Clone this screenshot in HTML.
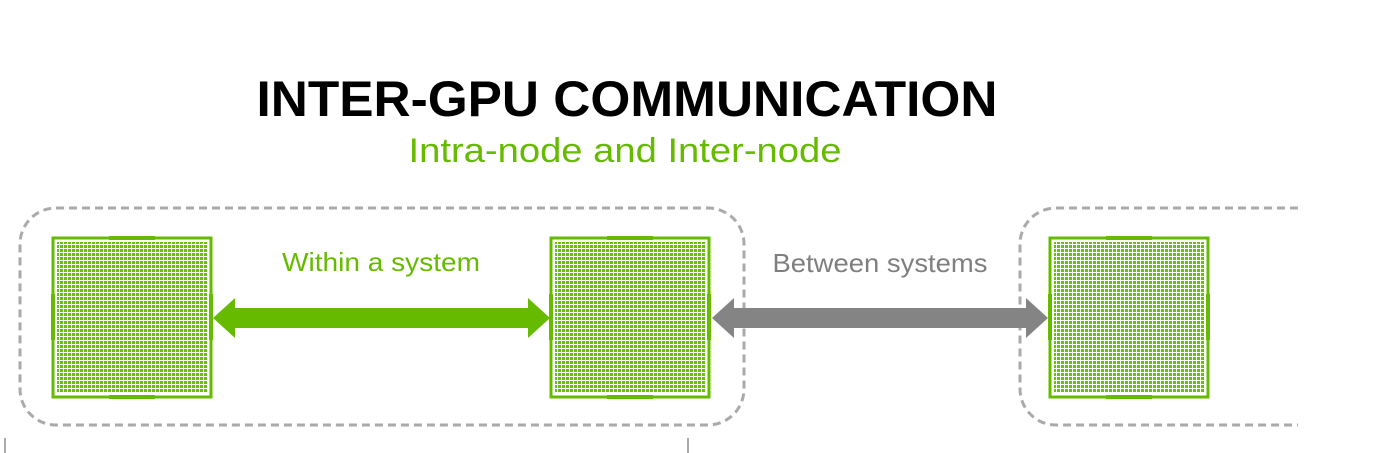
<!DOCTYPE html>
<html><head><style>body{margin:0;background:#fff}svg{display:block}</style></head>
<body>
<svg width="1400" height="453" viewBox="0 0 1400 453" xmlns="http://www.w3.org/2000/svg" font-family="Liberation Sans, sans-serif">
<defs>
<pattern id="g" width="4" height="4" patternUnits="userSpaceOnUse">
<rect width="4" height="4" fill="#fff"/><rect width="3" height="3" fill="#6cbd10"/>
</pattern>
<g id="chip">
<rect x="1" y="1" width="158" height="159" fill="#fff" stroke="#66bb00" stroke-width="3"/>
<rect x="5" y="5" width="150" height="151" fill="url(#g)"/>
<line x1="57" y1="1" x2="103" y2="1" stroke="#66bb00" stroke-width="4"/>
<line x1="57" y1="160" x2="103" y2="160" stroke="#66bb00" stroke-width="4"/>
<line x1="1" y1="57" x2="1" y2="103" stroke="#66bb00" stroke-width="4"/>
<line x1="159" y1="57" x2="159" y2="103" stroke="#66bb00" stroke-width="4"/>
</g>
</defs>
<text x="627" y="116" font-size="50" font-weight="bold" text-anchor="middle" textLength="741" lengthAdjust="spacingAndGlyphs" fill="#000">INTER-GPU COMMUNICATION</text>
<text x="625" y="162" font-size="34" text-anchor="middle" textLength="433" lengthAdjust="spacingAndGlyphs" fill="#66bb00">Intra-node and Inter-node</text>
<rect x="20" y="208" width="724" height="217" rx="36" fill="none" stroke="#aaa" stroke-width="3" stroke-dasharray="8,5"/>
<path d="M1298 208 H1056 A36 36 0 0 0 1020 244 V389 A36 36 0 0 0 1056 425 H1298" fill="none" stroke="#aaa" stroke-width="3" stroke-dasharray="8,5"/>
<use href="#chip" x="52" y="237"/>
<use href="#chip" x="550" y="237"/>
<use href="#chip" x="1049" y="237"/>
<text x="381" y="271" font-size="26" text-anchor="middle" textLength="198" lengthAdjust="spacingAndGlyphs" fill="#66bb00">Within a system</text>
<text x="880" y="272" font-size="26" text-anchor="middle" textLength="215" lengthAdjust="spacingAndGlyphs" fill="#7f7f7f">Between systems</text>
<polygon points="213,318 235,298 235,308 528,308 528,298 550,318 528,338 528,328 235,328 235,338" fill="#66bb00"/>
<polygon points="712,318 734,298 734,308 1026,308 1026,298 1048,318 1026,338 1026,328 734,328 734,338" fill="#848484"/>
<line x1="5" y1="438" x2="5" y2="453" stroke="#555" stroke-width="1"/>
<line x1="688" y1="438" x2="688" y2="453" stroke="#555" stroke-width="1"/>
</svg>
</body></html>
